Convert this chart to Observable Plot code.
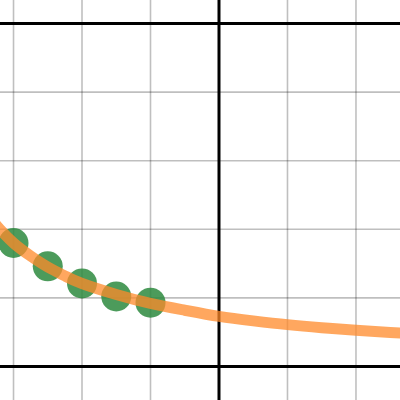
<!DOCTYPE html>
<html>
<head>
<meta charset="utf-8">
<script src="https://cdn.jsdelivr.net/npm/d3@7"></script>
<script src="https://cdn.jsdelivr.net/npm/@observablehq/plot@0.6"></script>
<style>
html,body{margin:0;padding:0;background:#fff;}
</style>
</head>
<body>
<div id="chart"></div>
<script>
const gridX = [-3, -2, -1, 1, 2];
const gridY = [1, 2, 3, 4];
const axisX = [0];
const axisY = [0, 5];

const pointX = [-3.0, -2.5, -2.0, -1.5, -1.0];
const pointY = [1.80, 1.46, 1.21, 1.02, 0.93];

const curveX = [-3.3, -3.2, -3.0, -2.75, -2.5, -2.25, -2.0, -1.5, -1.0, -0.5, 0, 0.5, 1.0, 1.5, 2.0, 2.5, 2.8];
const curveY = [2.12, 2.0, 1.80, 1.61, 1.45, 1.32, 1.21, 1.05, 0.92, 0.82, 0.73, 0.665, 0.61, 0.565, 0.527, 0.495, 0.478];

const points = pointX.map((x, i) => ({x, y: pointY[i]}));
const curve = curveX.map((x, i) => ({x, y: curveY[i]}));

const chart = Plot.plot({
  width: 400,
  height: 400,
  margin: 0,
  x: {domain: [-3.19, 2.65], axis: null},
  y: {domain: [-0.496, 5.335], axis: null},
  style: {background: "#fff"},
  marks: [
    Plot.ruleX(gridX, {stroke: "#000", strokeOpacity: 0.25, strokeWidth: 1.6}),
    Plot.ruleY(gridY, {stroke: "#000", strokeOpacity: 0.25, strokeWidth: 1.6}),
    Plot.ruleX(axisX, {stroke: "#000", strokeWidth: 3}),
    Plot.ruleY(axisY, {stroke: "#000", strokeWidth: 3}),
    Plot.dot(points, {x: "x", y: "y", r: 15, fill: "#2d8a3e", fillOpacity: 0.85, stroke: "none"}),
    Plot.line(curve, {x: "x", y: "y", curve: "natural", stroke: "#ff8a2a", strokeWidth: 11, strokeOpacity: 0.75, clip: true})
  ]
});
document.getElementById("chart").appendChild(chart);
</script>
</body>
</html>
